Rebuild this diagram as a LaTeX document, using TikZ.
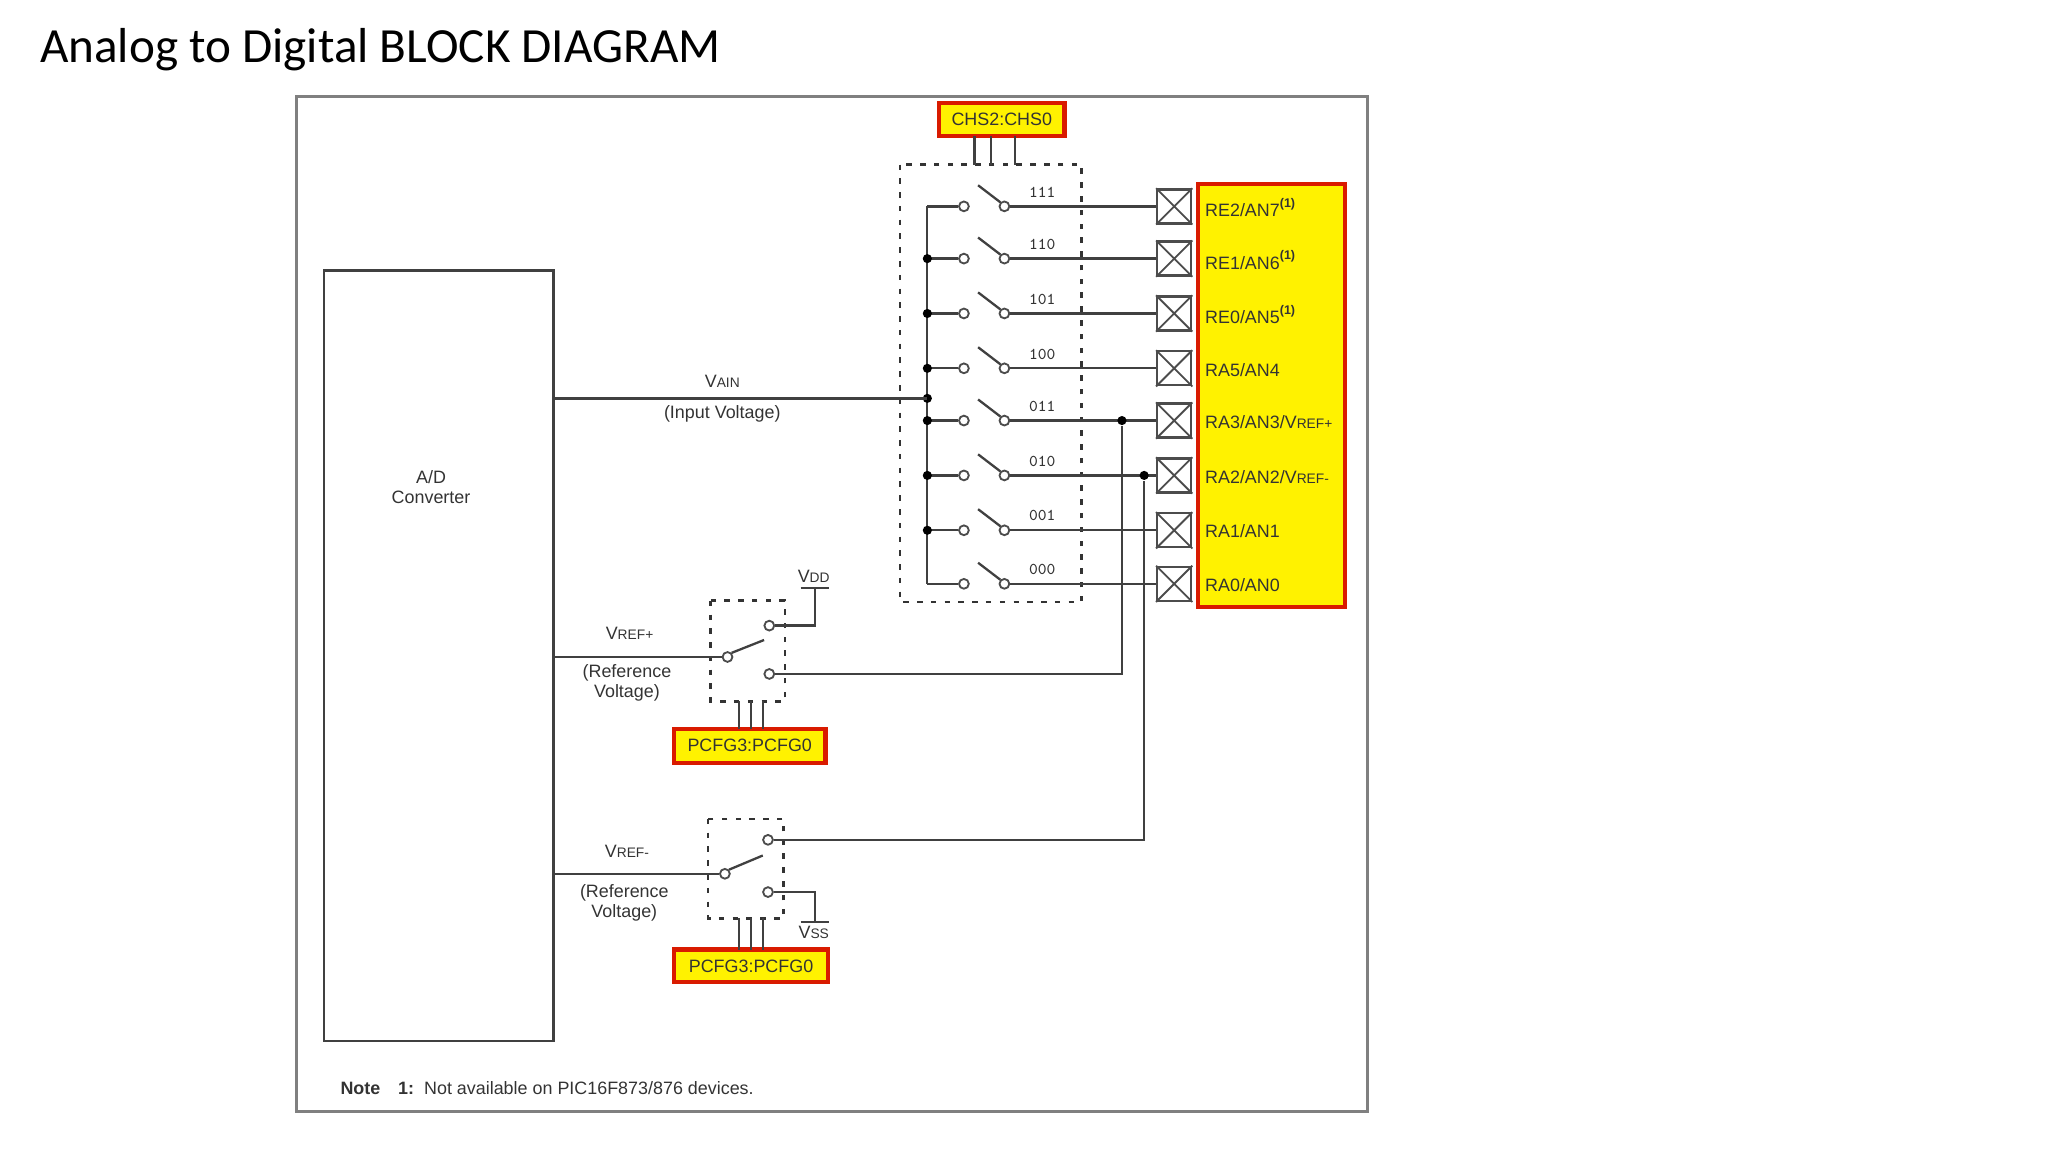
\documentclass[tikz,border=0pt]{standalone}
\usepackage{fontspec}
\setmainfont{Liberation Sans}
\newfontfamily\titlefont{Carlito}
\begin{document}
\begin{tikzpicture}[x=0.01cm,y=-0.01cm,
  ln/.style={draw=black!75,line width=0.5pt},
  dbox/.style={draw=black!80,line width=0.6pt,dash pattern=on 1.2pt off 1.8pt},
  yel/.style={draw=red!75!orange!85!black,fill=yellow,line width=0.9pt},
  oc/.style={circle,draw=black!70,fill=white,inner sep=0pt,minimum size=0.075cm,line width=0.4pt},
  dot/.style={circle,fill=black,inner sep=0pt,minimum size=0.07cm},
  lab/.style={font=\fontsize{3.9pt}{4.4pt}\selectfont,text=black!80,inner sep=0pt},
  code/.style={font=\ttfamily\fontsize{3.6pt}{4pt}\selectfont,text=black!80,inner sep=0pt}]
\useasboundingbox (0,0) rectangle (1568,882);
\node[anchor=base west,inner sep=0pt,font=\titlefont\fontsize{10.7pt}{12pt}\selectfont] (title) at (30,48) {Analog to Digital BLOCK DIAGRAM};
\draw[draw=black!50,line width=0.8pt] (227,74) rectangle (1047,851);
\draw[ln,line width=0.6pt] (248,207) rectangle (424,797);
\node[lab,align=center] (adc) at (330,373) {A/D\\Converter};
% mux
\draw[dbox] (689,126) rectangle (828,461);
\node[yel,minimum width=0.96cm,minimum height=0.25cm,inner sep=0pt,lab] (chs) at (767,91.5) {CHS2:CHS0};
\foreach \x in {746,759,777} \draw[ln] (\x,104) -- (\x,126);
\draw[dbox] (544,460) rectangle (601,537);
\draw[dbox] (542,627) rectangle (600,703);
% yellow pin box
\draw[yel] (917,141) rectangle (1030,465);
\foreach \y/\c/\p [count=\i] in {158/111/{RE2/AN7\textsuperscript{\textbf{(1)}}},198/110/{RE1/AN6\textsuperscript{\textbf{(1)}}},240/101/{RE0/AN5\textsuperscript{\textbf{(1)}}},282/100/{RA5/AN4},322/011/{RA3/AN3/V{\fontsize{3pt}{3pt}\selectfont REF+}},364/010/{RA2/AN2/V{\fontsize{3pt}{3pt}\selectfont REF-}},406/001/{RA1/AN1},447/000/{RA0/AN0}}{
  \node[draw=black!70,line width=0.5pt,minimum size=0.26cm,inner sep=0pt,fill=white] (pin\i) at (899,\y) {};
  \draw[black!70,line width=0.4pt] (pin\i.north west) -- (pin\i.south east) (pin\i.north east) -- (pin\i.south west);
  \node[oc] (a\i) at (738,\y) {};
  \node[oc] (b\i) at (769,\y) {};
  \draw[ln] (b\i) -- (pin\i.west);
  \draw[ln] (b\i.north west) -- ++(-17,-13);
  \draw[ln] (710,\y) -- (a\i);
  \node[code] (c\i) at (798,\y-11) {\c};
  \node[lab,anchor=west] (p\i) at (922,\y+1) {\p};
}
\draw[ln] (710,158) -- (710,447);
\foreach \y in {198,240,282,305,322,364,406} \node[dot] at (710,\y) {};
% VAIN
\coordinate (vain) at (710,305);
\draw[ln] (424,305) -- (vain);
\node[lab] (vainl) at (553,292) {V{\fontsize{3pt}{3pt}\selectfont AIN}};
\node[lab] (vainl2) at (553,317) {(Input Voltage)};
% taps
\node[dot] (t3) at (859,322) {};
\node[dot] (t2) at (876,364) {};
% VREF+ switch
\node[oc] (pc) at (557,503) {};
\node[oc] (pu) at (589,479) {};
\node[oc] (pl) at (589,516) {};
\draw[ln] (424,503) -- (pc);
\draw[ln] (pc.north east) -- (585,490);
\draw[ln] (pl) -- (859,516) -- (t3);
\draw[ln] (pu) -- (624,479) -- (624,450);
\draw[ln] (613,450) -- (635,450);
\node[lab] (vdd) at (623,441) {V{\fontsize{3pt}{3pt}\selectfont DD}};
\node[lab] (vrp) at (482,485) {V{\fontsize{3pt}{3pt}\selectfont REF+}};
\node[lab,align=center] (rv1) at (480,523) {(Reference\\Voltage)};
\node[yel,minimum width=1.16cm,minimum height=0.26cm,inner sep=0pt,lab] (pc1) at (574,571) {PCFG3:PCFG0};
\foreach \x in {566,575,584} \draw[ln] (\x,558) -- (\x,537);
% VREF- switch
\node[oc] (mc) at (555,669) {};
\node[oc] (mu) at (588,643) {};
\node[oc] (ml) at (588,683) {};
\draw[ln] (424,669) -- (mc);
\draw[ln] (mc.north east) -- (584,655);
\draw[ln] (mu) -- (876,643) -- (t2);
\draw[ln] (ml) -- (624,683) -- (624,706);
\draw[ln] (613,706) -- (635,706);
\node[lab] (vss) at (623,714) {V{\fontsize{3pt}{3pt}\selectfont SS}};
\node[lab] (vrm) at (480,652) {V{\fontsize{3pt}{3pt}\selectfont REF-}};
\node[lab,align=center] (rv2) at (478,691) {(Reference\\Voltage)};
\node[yel,minimum width=1.18cm,minimum height=0.25cm,inner sep=0pt,lab] (pc2) at (575,739.5) {PCFG3:PCFG0};
\foreach \x in {566,575,584} \draw[ln] (\x,727) -- (\x,703);
\node[lab,anchor=west] (note) at (260,833) {\textbf{Note}\quad\textbf{1:}\ \ Not available on PIC16F873/876 devices.};
\end{tikzpicture}
\end{document}
